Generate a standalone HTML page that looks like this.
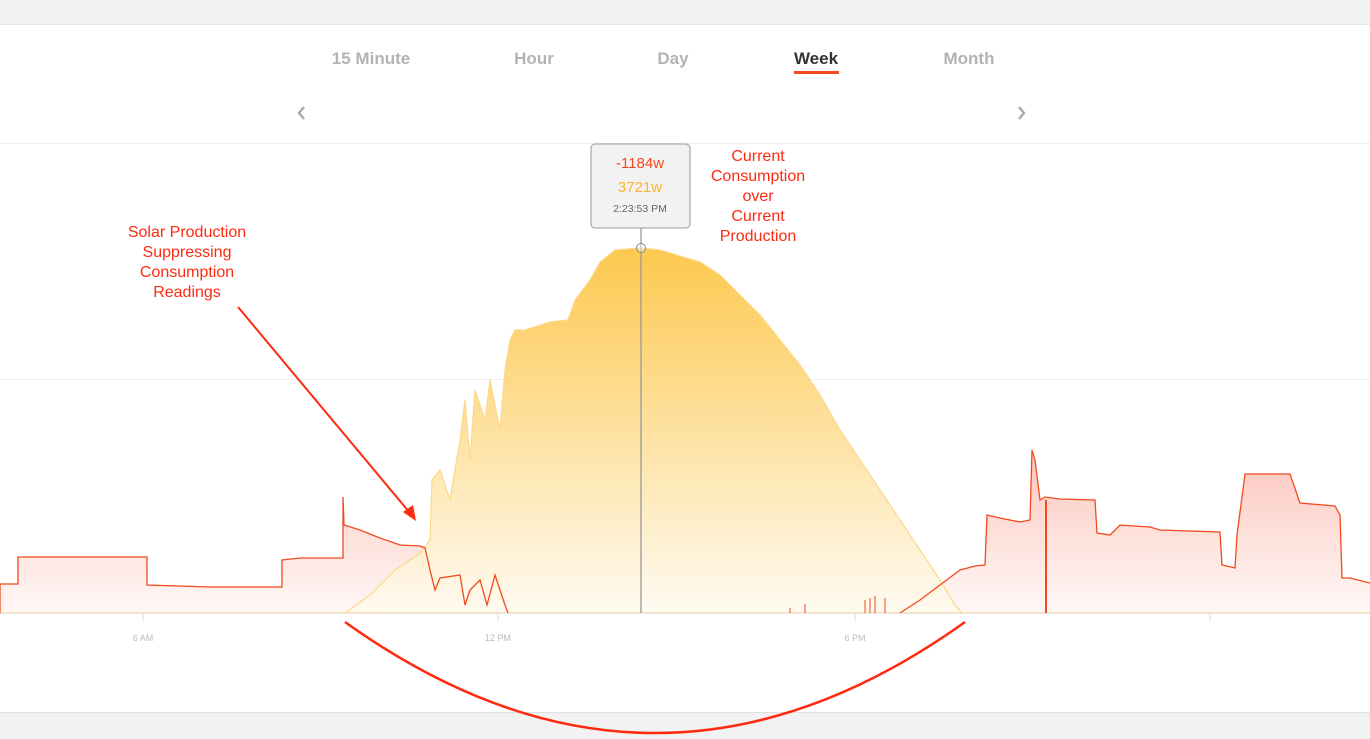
<!DOCTYPE html>
<html><head><meta charset="utf-8"><style>
body{margin:0;width:1370px;height:739px;overflow:hidden;background:#f2f2f2;font-family:"Liberation Sans",sans-serif;}
</style></head><body>
<svg width="1370" height="739" viewBox="0 0 1370 739" style="position:absolute;left:0;top:0">
<defs>
<linearGradient id="gy" gradientUnits="userSpaceOnUse" x1="0" y1="245" x2="0" y2="613">
<stop offset="0" stop-color="#fcc23a"/><stop offset="1" stop-color="#fffaf0"/></linearGradient>
<linearGradient id="gr" gradientUnits="userSpaceOnUse" x1="0" y1="450" x2="0" y2="613">
<stop offset="0" stop-color="#fcc6bc"/><stop offset="1" stop-color="#fff8f7"/></linearGradient>
</defs>
<rect x="0" y="24" width="1370" height="689" fill="#fff"/>
<line x1="0" y1="24.5" x2="1370" y2="24.5" stroke="#e8e8e8"/>
<line x1="0" y1="712.5" x2="1370" y2="712.5" stroke="#e0e0e0"/>
<line x1="0" y1="143.5" x2="1370" y2="143.5" stroke="#eee"/>
<line x1="0" y1="379.5" x2="1370" y2="379.5" stroke="#eee"/>
<g font-size="17" font-weight="bold" fill="#b3b3b3" text-anchor="middle">
<text x="371" y="64">15 Minute</text><text x="534" y="64">Hour</text><text x="673" y="64">Day</text>
<text x="816" y="64" fill="#333">Week</text><text x="969" y="64">Month</text></g>
<rect x="794" y="71" width="45" height="3" fill="#f04a1e"/>
<path d="M304 107 L299 113 L304 119" fill="none" stroke="#aaa" stroke-width="2.5"/>
<path d="M1019 107 L1024 113 L1019 119" fill="none" stroke="#aaa" stroke-width="2.5"/>
<!-- consumption -->
<path d="M0 613 L0 584 L18 584 L18 557 L110 557 L147 557 L147 585 L210 587 L282 587 L282 560 L300 558 L343 558 L343 497 L344 525 L360 530 L380 538 L400 545 L420 546 L425 548 L430 570 L435 590 L440 578 L460 575 L465 605 L470 590 L480 580 L487 605 L495 575 L500 590 L505 605 L508 613 L900 613 L920 600 L940 585 L960 570 L975 566 L985 565 L987 515 L1000 518 L1020 522 L1030 520 L1032 450 L1035 460 L1040 500 L1045 497 L1060 499 L1095 500 L1097 533 L1110 535 L1120 525 L1150 527 L1160 530 L1220 532 L1222 565 L1235 568 L1237 535 L1245 474 L1290 474 L1300 503 L1335 506 L1340 515 L1342 578 L1350 578 L1370 583 L1370 613 Z" fill="url(#gr)" stroke="none"/>
<!-- production -->
<path d="M0 613 L345 613 L370 595 L395 570 L420 553 L430 540 L432 480 L440 470 L450 500 L460 440 L465 400 L470 460 L475 390 L485 420 L490 380 L500 430 L505 370 L510 340 L515 330 L525 330 L550 322 L568 320 L575 300 L590 280 L600 262 L615 250 L640 248 L660 250 L700 262 L720 275 L740 295 L760 315 L780 340 L800 365 L820 395 L840 430 L860 460 L880 490 L900 520 L920 550 L940 580 L955 605 L962 613 L1370 613 Z" fill="url(#gy)" fill-opacity="0.9" stroke="#fdd88a" stroke-width="1.2"/>
<path d="M0 613 L0 584 L18 584 L18 557 L110 557 L147 557 L147 585 L210 587 L282 587 L282 560 L300 558 L343 558 L343 497 L344 525 L360 530 L380 538 L400 545 L420 546 L425 548 L430 570 L435 590 L440 578 L460 575 L465 605 L470 590 L480 580 L487 605 L495 575 L500 590 L505 605 L508 613 M900 613 L920 600 L940 585 L960 570 L975 566 L985 565 L987 515 L1000 518 L1020 522 L1030 520 L1032 450 L1035 460 L1040 500 L1045 497 L1060 499 L1095 500 L1097 533 L1110 535 L1120 525 L1150 527 L1160 530 L1220 532 L1222 565 L1235 568 L1237 535 L1245 474 L1290 474 L1300 503 L1335 506 L1340 515 L1342 578 L1350 578 L1370 583" fill="none" stroke="#f24a1c" stroke-width="1.3"/>
<line x1="1046" y1="500" x2="1046" y2="613" stroke="#f24a1c" stroke-width="2"/>
<path d="M790 613 V608 M805 613 V604 M865 613 V600 M870 613 V598 M875 613 V596 M885 613 V598" stroke="#f24a1c" stroke-width="1"/>
<line x1="0" y1="613.5" x2="1370" y2="613.5" stroke="#e5e5e5"/>
<g stroke="#ddd"><line x1="143" y1="614" x2="143" y2="621"/><line x1="498" y1="614" x2="498" y2="621"/><line x1="855" y1="614" x2="855" y2="621"/><line x1="1210" y1="614" x2="1210" y2="621"/></g>
<g font-size="9" fill="#bbb" text-anchor="middle"><text x="143" y="641">6 AM</text><text x="498" y="641">12 PM</text><text x="855" y="641">6 PM</text></g>
<!-- tooltip -->
<line x1="641" y1="228" x2="641" y2="613" stroke="#999" stroke-width="1.3"/>
<circle cx="641" cy="248" r="4.5" fill="#fff" fill-opacity="0.4" stroke="#888"/>
<rect x="591" y="144" width="99" height="84" rx="4" fill="#f2f2f2" stroke="#999"/>
<g text-anchor="middle"><text x="640" y="168" font-size="15" fill="#f04a24">-1184w</text>
<text x="640" y="192" font-size="15" fill="#fbb52a">3721w</text>
<text x="640" y="212" font-size="10.5" fill="#666">2:23:53 PM</text></g>
<g font-size="16" fill="#ff2a10" text-anchor="middle">
<text x="758" y="161">Current</text><text x="758" y="181">Consumption</text><text x="758" y="201">over</text><text x="758" y="221">Current</text><text x="758" y="241">Production</text>
<text x="187" y="237">Solar Production</text><text x="187" y="257">Suppressing</text><text x="187" y="277">Consumption</text><text x="187" y="297">Readings</text></g>
<line x1="238" y1="307" x2="410" y2="513" stroke="#ff2a10" stroke-width="2"/>
<polygon points="416,521 403,512 413,505" fill="#ff2a10"/>
<path d="M345 622 Q655 844 965 622" fill="none" stroke="#ff2a10" stroke-width="2.5"/>
</svg>
</body></html>
